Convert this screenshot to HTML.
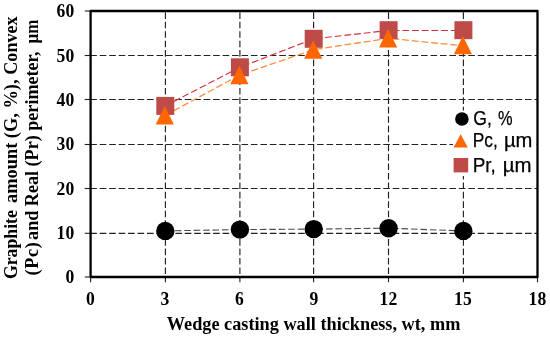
<!DOCTYPE html><html><head><meta charset="utf-8"><title>chart</title><style>html,body{margin:0;padding:0;background:#fff}svg{display:block}</style></head><body><svg width="550" height="338" viewBox="0 0 550 338">
<rect width="550" height="338" fill="#fff"/>
<g stroke="#222" stroke-width="1.15" stroke-dasharray="6.6 2.85" fill="none"><path d="M90.3,55.5H537.5"/><path d="M90.3,99.5H537.5"/><path d="M90.3,144.5H537.5"/><path d="M90.3,188.5H537.5"/><path d="M90.3,233.3H537.5"/><path d="M165.4,12.3V277.0"/><path d="M239.9,12.3V277.0"/><path d="M313.6,12.3V277.0"/><path d="M388.5,12.3V277.0"/><path d="M463.4,12.3V277.0"/></g>
<g stroke="#222" stroke-width="1.1" fill="none"><path d="M84.7,11H90.6"/><path d="M84.7,55.5H90.6"/><path d="M84.7,99.5H90.6"/><path d="M84.7,144.5H90.6"/><path d="M84.7,188.5H90.6"/><path d="M84.7,233.3H90.6"/><path d="M84.7,277H90.6"/><path d="M90.6,277.0V282.2"/><path d="M165.4,277.0V282.2"/><path d="M239.9,277.0V282.2"/><path d="M313.6,277.0V282.2"/><path d="M388.5,277.0V282.2"/><path d="M463.4,277.0V282.2"/><path d="M537.5,277.0V282.2"/></g>
<path d="M165.3,230.9 L239.9,229.6 L313.7,229.1 L388.6,228.2 L463.4,230.9" fill="none" stroke="#4d4d4d" stroke-width="1.1" stroke-dasharray="6.6 2.85"/>
<path d="M165.3,105.9 L239.9,67.3 L313.7,38.8 L388.6,30.5 L463.4,30.5" fill="none" stroke="#d2303c" stroke-width="1.15" stroke-dasharray="6.8 2.9"/>
<path d="M165.3,115.3 L239.9,75.0 L313.7,49.6 L388.6,38.3 L463.4,45.8" fill="none" stroke="#ff8c3a" stroke-width="1.3" stroke-dasharray="6.8 2.9"/>
<rect x="453" y="110.5" width="83.5" height="65.5" fill="#fff"/>
<rect x="90.6" y="11.0" width="446.9" height="266.0" fill="none" stroke="#000" stroke-width="2.3" stroke-linejoin="round"/>
<circle cx="165.3" cy="230.9" r="9.2" fill="#000"/>
<circle cx="239.9" cy="229.6" r="9.2" fill="#000"/>
<circle cx="313.7" cy="229.1" r="9.2" fill="#000"/>
<circle cx="388.6" cy="228.2" r="9.2" fill="#000"/>
<circle cx="463.4" cy="230.9" r="9.2" fill="#000"/>
<rect x="156.3" y="96.9" width="18" height="18" fill="#be4b48"/>
<rect x="230.9" y="58.3" width="18" height="18" fill="#be4b48"/>
<rect x="304.7" y="29.8" width="18" height="18" fill="#be4b48"/>
<rect x="379.6" y="21.2" width="18" height="18" fill="#be4b48"/>
<rect x="454.4" y="21.2" width="18" height="18" fill="#be4b48"/>
<path d="M164.8,106.1L173.9,124.5H155.7Z" fill="#ff6600"/>
<path d="M239.4,65.8L248.5,84.2H230.3Z" fill="#ff6600"/>
<path d="M313.2,40.4L322.3,58.8H304.1Z" fill="#ff6600"/>
<path d="M388.1,29.0L397.2,47.4H379.0Z" fill="#ff6600"/>
<path d="M462.9,35.9L472.0,54.3H453.8Z" fill="#ff6600"/>
<circle cx="461.9" cy="119" r="6.8" fill="#000"/>
<path d="M460.7,134.3L467.8,147.6H453.6Z" fill="#ff6600"/>
<rect x="453.6" y="158" width="14.6" height="14.4" fill="#be4b48"/>
<g font-family="'Liberation Sans', sans-serif" font-size="19.5" fill="#000" stroke="#000" stroke-width="0.25">
<text y="125.2"><tspan x="473.32" textLength="18.50" lengthAdjust="spacingAndGlyphs">G,</tspan> <tspan x="498.08" textLength="14.58" lengthAdjust="spacingAndGlyphs">%</tspan></text>
<text y="147.1"><tspan x="472.72" textLength="25.00" lengthAdjust="spacingAndGlyphs">Pc,</tspan> <tspan x="503.92" textLength="28.51" lengthAdjust="spacingAndGlyphs">µm</tspan></text>
<text y="171.7"><tspan x="472.72" textLength="23.09" lengthAdjust="spacingAndGlyphs">Pr,</tspan> <tspan x="502.70" textLength="28.80" lengthAdjust="spacingAndGlyphs">µm</tspan></text>
</g>
<g font-family="'Liberation Serif', serif" font-weight="bold" font-size="18.2" fill="#000">
<text transform="translate(74.2,283.4) scale(0.967,1)" text-anchor="end">0</text>
<text transform="translate(74.2,239.1) scale(0.967,1)" text-anchor="end">10</text>
<text transform="translate(74.2,194.7) scale(0.967,1)" text-anchor="end">20</text>
<text transform="translate(74.2,150.4) scale(0.967,1)" text-anchor="end">30</text>
<text transform="translate(74.2,106.1) scale(0.967,1)" text-anchor="end">40</text>
<text transform="translate(74.2,61.7) scale(0.967,1)" text-anchor="end">50</text>
<text transform="translate(74.2,17.0) scale(0.967,1)" text-anchor="end">60</text>
<text transform="translate(90.5,305.2) scale(0.967,1)" text-anchor="middle">0</text>
<text transform="translate(165.0,305.2) scale(0.967,1)" text-anchor="middle">3</text>
<text transform="translate(239.5,305.2) scale(0.967,1)" text-anchor="middle">6</text>
<text transform="translate(313.9,305.2) scale(0.967,1)" text-anchor="middle">9</text>
<text transform="translate(388.4,305.2) scale(0.967,1)" text-anchor="middle">12</text>
<text transform="translate(462.9,305.2) scale(0.967,1)" text-anchor="middle">15</text>
<text transform="translate(537.4,305.2) scale(0.967,1)" text-anchor="middle">18</text>
<text x="166.8" y="330.4" font-size="18.6" textLength="293.6" lengthAdjust="spacingAndGlyphs">Wedge casting wall thickness, wt, mm</text>
<text transform="translate(16.8,0) rotate(-90)"><tspan x="-279.1" textLength="69" lengthAdjust="spacingAndGlyphs">Graphite</tspan> <tspan x="-203" textLength="123.6" lengthAdjust="spacingAndGlyphs">amount (G, %),</tspan> <tspan x="-74.7" textLength="58.2" lengthAdjust="spacingAndGlyphs">Convex</tspan></text>
<text transform="translate(37.6,0) rotate(-90)"><tspan x="-275.6" textLength="33.4" lengthAdjust="spacing">(Pc)</tspan> <tspan x="-239.9" textLength="188.4" lengthAdjust="spacingAndGlyphs">and Real (Pr) perimeter,</tspan> <tspan x="-43.6" textLength="23.9" lengthAdjust="spacingAndGlyphs">µm</tspan></text>
</g></svg></body></html>
